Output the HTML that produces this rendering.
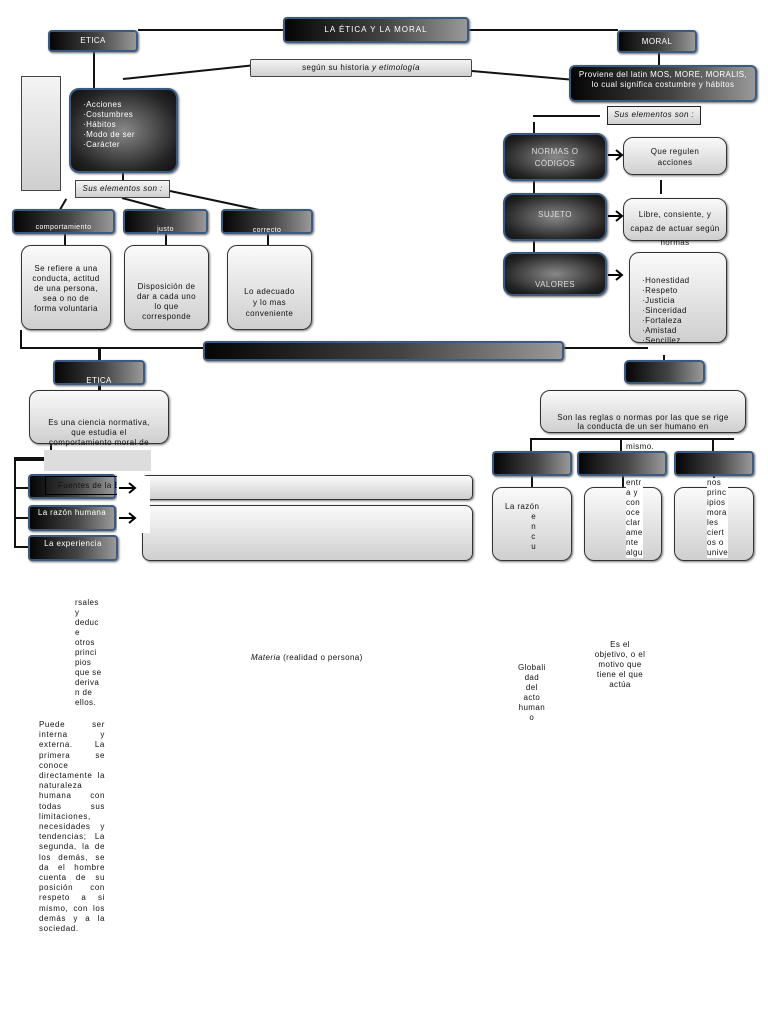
<!DOCTYPE html>
<html><head><meta charset="utf-8"><style>
body{margin:0;width:768px;height:1024px;background:#fff;position:relative;overflow:hidden;font-family:"Liberation Sans",sans-serif;font-size:8px;color:#111;letter-spacing:0.4px}
div{position:absolute;box-sizing:border-box}
.d{background:linear-gradient(90deg,#050505,#444 55%,#999);border:2px solid #3b5a80;color:#fff;text-align:center;border-radius:4px;box-shadow:1px 1px 2px #666}
.dr{background:radial-gradient(ellipse at center,#888,#222 75%,#111);border:2px solid #3b5a80;color:#fff;border-radius:10px;box-shadow:1px 1px 2px #666}
.l{background:linear-gradient(180deg,#fafafa,#cfcfcf);border:1.5px solid #333;text-align:center;border-radius:10px;box-shadow:1px 1px 2px #777}
.r{background:linear-gradient(180deg,#f4f4f4,#cfcfcf);border:1.5px solid #444;text-align:center}
.k{background:#111}
.t{color:#111}
.a{background:#fff}
</style></head><body>
<!-- lines -->
<div class="k" style="left:138px;top:29px;width:146px;height:2px"></div>
<div class="k" style="left:468px;top:29px;width:150px;height:2px"></div>
<div class="k" style="left:93px;top:52px;width:2px;height:38px"></div>
<div class="k" style="left:658px;top:53px;width:2px;height:13px"></div>
<div class="k" style="left:123px;top:78px;width:130px;height:2px;transform:rotate(-6deg);transform-origin:left"></div>
<div class="k" style="left:472px;top:70px;width:98px;height:2px;transform:rotate(5deg);transform-origin:left"></div>
<div class="k" style="left:122px;top:172px;width:2px;height:9px"></div>
<div class="k" style="left:62px;top:198px;width:2px;height:13px;transform:rotate(30deg)"></div>
<div class="k" style="left:122px;top:197px;width:45px;height:2px;transform:rotate(15deg);transform-origin:left"></div>
<div class="k" style="left:170px;top:190px;width:100px;height:2px;transform:rotate(12deg);transform-origin:left"></div>
<div class="k" style="left:64px;top:233px;width:2px;height:12px"></div>
<div class="k" style="left:165px;top:233px;width:2px;height:12px"></div>
<div class="k" style="left:267px;top:234px;width:2px;height:11px"></div>
<div class="k" style="left:20px;top:330px;width:2px;height:19px"></div>
<div class="k" style="left:20px;top:347px;width:184px;height:2px"></div>
<div class="k" style="left:98px;top:347px;width:3px;height:14px"></div>
<div class="k" style="left:98px;top:384px;width:3px;height:7px"></div>
<div class="k" style="left:563px;top:347px;width:85px;height:2px"></div>
<div class="k" style="left:663px;top:355px;width:2px;height:6px"></div>
<div class="k" style="left:660px;top:180px;width:2px;height:14px"></div>
<div class="k" style="left:533px;top:115px;width:67px;height:2px"></div>
<div class="k" style="left:533px;top:122px;width:2px;height:135px"></div>
<div class="k" style="left:50px;top:444px;width:2px;height:14px"></div>
<div class="k" style="left:14px;top:457px;width:32px;height:4px"></div>
<div class="k" style="left:14px;top:459px;width:2px;height:89px"></div>
<div class="k" style="left:14px;top:487px;width:14px;height:2px"></div>
<div class="k" style="left:14px;top:517px;width:14px;height:2px"></div>
<div class="k" style="left:14px;top:546px;width:14px;height:2px"></div>
<div class="k" style="left:530px;top:438px;width:204px;height:2px"></div>
<div class="k" style="left:530px;top:438px;width:2px;height:14px"></div>
<div class="k" style="left:620px;top:438px;width:2px;height:14px"></div>
<div class="k" style="left:712px;top:438px;width:2px;height:14px"></div>
<div class="k" style="left:531px;top:475px;width:2px;height:13px"></div>
<div class="k" style="left:622px;top:475px;width:2px;height:13px"></div>
<div class="k" style="left:713px;top:475px;width:2px;height:13px"></div>

<!-- top -->
<div class="d" style="left:283px;top:17px;width:186px;height:26px;line-height:22px;font-size:8px;letter-spacing:1px">LA ÉTICA Y LA MORAL</div>
<div class="d" style="left:48px;top:30px;width:90px;height:22px;line-height:18px">ETICA</div>
<div class="d" style="left:617px;top:30px;width:80px;height:23px;line-height:19px">MORAL</div>
<div class="r" style="left:250px;top:59px;width:222px;height:18px;line-height:15px;border-radius:2px">según su historia <i>y etimología</i></div>
<div class="d" style="left:569px;top:65px;width:188px;height:37px;font-size:8px;line-height:10px;padding:3px 4px 0;border-radius:6px">Proviene del latin MOS, MORE, MORALIS, lo cual significa costumbre y hábitos</div>
<div class="r" style="left:21px;top:76px;width:40px;height:115px"></div>
<div class="dr" style="left:69px;top:88px;width:109px;height:85px;padding:10px 0 0 12px;line-height:10px">·Acciones<br>·Costumbres<br>·Hábitos<br>·Modo de ser<br>·Carácter</div>
<div class="r" style="left:75px;top:180px;width:95px;height:18px;line-height:15px"><i>Sus elementos son :</i></div>
<div class="d" style="left:12px;top:209px;width:103px;height:25px;line-height:34px;font-size:7px">comportamiento</div>
<div class="d" style="left:123px;top:209px;width:85px;height:25px;line-height:38px;font-size:7px">justo</div>
<div class="d" style="left:221px;top:209px;width:92px;height:25px;line-height:40px;font-size:7px">correcto</div>
<div class="l" style="left:21px;top:245px;width:90px;height:85px;padding:18px 10px 0;line-height:10px">Se refiere a una conducta, actitud de una persona, sea o no de forma voluntaria</div>
<div class="l" style="left:124px;top:245px;width:85px;height:85px;padding:36px 10px 0;line-height:10px">Disposición de dar a cada uno lo que corresponde</div>
<div class="l" style="left:227px;top:245px;width:85px;height:85px;padding:40px 14px 0;line-height:11px">Lo adecuado y lo mas conveniente</div>

<!-- right moral -->
<div class="r" style="left:607px;top:106px;width:94px;height:19px;line-height:16px;border:1.5px solid #222"><i>Sus elementos son :</i></div>
<div class="dr" style="left:503px;top:133px;width:104px;height:48px;padding-top:11px;line-height:12px;text-align:center;color:#ddd">NORMAS O<br>CÓDIGOS</div>
<div class="dr" style="left:503px;top:193px;width:104px;height:48px;line-height:40px;text-align:center;color:#ddd">SUJETO</div>
<div class="dr" style="left:503px;top:252px;width:104px;height:44px;padding-top:26px;text-align:center;color:#ddd">VALORES</div>
<div class="l" style="left:623px;top:137px;width:104px;height:38px;padding:8px 22px 0;line-height:11px">Que regulen acciones</div>
<div class="l" style="left:623px;top:198px;width:104px;height:43px;padding:9px 6px 0;line-height:14px">Libre, consiente, y capaz de actuar según normas</div>
<div class="l" style="left:629px;top:252px;width:98px;height:91px;padding:23px 0 0 12px;line-height:10px;text-align:left">·Honestidad<br>·Respeto<br>·Justicia<br>·Sinceridad<br>·Fortaleza<br>·Amistad<br>·Sencillez...</div>
<svg style="position:absolute;left:605px;top:140px" width="20" height="150"><g stroke="#000" stroke-width="2" fill="none"><path d="M3 15H17M11 10L17 15L11 20"/><path d="M3 76H17M11 71L17 76L11 81"/><path d="M3 135H17M11 130L17 135L11 140"/></g></svg>

<!-- middle bar -->
<div class="d" style="left:203px;top:341px;width:361px;height:20px"></div>
<div class="d" style="left:53px;top:360px;width:92px;height:25px;line-height:38px">ETICA</div>
<div class="l" style="left:29px;top:390px;width:140px;height:54px;padding:27px 14px 0;line-height:10px">Es una ciencia normativa, que estudia el comportamiento moral de una persona</div>
<div style="left:44px;top:450px;width:107px;height:21px;background:#ddd"></div>
<div class="d" style="left:28px;top:474px;width:88px;height:25px"></div>
<div class="d" style="left:28px;top:505px;width:88px;height:26px;line-height:12px">La razón humana</div>
<div class="d" style="left:28px;top:535px;width:90px;height:26px;line-height:14px">La experiencia</div>
<div style="left:45px;top:476px;width:106px;height:19px;border:1px solid #000;line-height:17px;padding-left:12px;white-space:nowrap;overflow:hidden">Fuentes de la Etica:</div>
<div class="l" style="left:142px;top:475px;width:331px;height:25px;border-radius:5px"></div>
<div class="l" style="left:142px;top:505px;width:331px;height:56px;border-radius:8px"></div>
<div class="a" style="left:117px;top:476px;width:33px;height:57px"></div>
<svg style="position:absolute;left:116px;top:478px" width="24" height="50"><g stroke="#000" stroke-width="2" fill="none"><path d="M3 10H19M13 5L19 10L13 15"/><path d="M3 40H19M13 35L19 40L13 45"/></g></svg>

<!-- right bottom -->
<div class="d" style="left:624px;top:360px;width:81px;height:24px;border-radius:5px"></div>
<div class="l" style="left:540px;top:390px;width:206px;height:43px;padding:22px 14px 0;line-height:9px;font-size:8px">Son las reglas o normas por las que se rige la conducta de un ser humano en</div>
<div class="t" style="left:626px;top:442px;">mismo.</div>
<div class="d" style="left:492px;top:451px;width:80px;height:25px"></div>
<div class="d" style="left:577px;top:451px;width:90px;height:25px"></div>
<div class="d" style="left:674px;top:451px;width:80px;height:25px"></div>
<div class="l" style="left:492px;top:487px;width:80px;height:74px;padding:14px 0 0 12px;line-height:10px;text-align:left">La razón<br>&nbsp;&nbsp;&nbsp;&nbsp;&nbsp;&nbsp;&nbsp;&nbsp;&nbsp;&nbsp;e<br>&nbsp;&nbsp;&nbsp;&nbsp;&nbsp;&nbsp;&nbsp;&nbsp;&nbsp;&nbsp;n<br>&nbsp;&nbsp;&nbsp;&nbsp;&nbsp;&nbsp;&nbsp;&nbsp;&nbsp;&nbsp;c<br>&nbsp;&nbsp;&nbsp;&nbsp;&nbsp;&nbsp;&nbsp;&nbsp;&nbsp;&nbsp;u</div>
<div class="l" style="left:584px;top:487px;width:78px;height:74px"></div>
<div class="l" style="left:674px;top:487px;width:80px;height:74px"></div>
<div class="t" style="left:626px;top:478px;line-height:10px;background:#fff">entr<br>a y<br>con<br>oce<br>clar<br>ame<br>nte<br>algu</div>
<div class="t" style="left:707px;top:478px;line-height:10px;background:#fff">nos<br>princ<br>ipios<br>mora<br>les<br>ciert<br>os o<br>unive</div>

<!-- bottom text -->
<div class="t" style="left:75px;top:598px;line-height:10px">rsales<br>y<br>deduc<br>e<br>otros<br>princi<br>pios<br>que se<br>deriva<br>n de<br>ellos.</div>
<div class="t" style="left:39px;top:720px;width:66px;line-height:10.2px;text-align:justify;text-align-last:left;letter-spacing:0.6px">Puede ser interna y externa. La primera se conoce directamente la naturaleza humana con todas sus limitaciones, necesidades y tendencias; La segunda, la de los demás, se da el hombre cuenta de su posición con respeto a si mismo, con los demás y a la sociedad.</div>
<div class="t" style="left:251px;top:653px"><i>Materia</i> (realidad o persona)</div>
<div class="t" style="left:518px;top:663px;line-height:10px;text-align:center">Globali<br>dad<br>del<br>acto<br>human<br>o</div>
<div class="t" style="left:594px;top:640px;width:52px;line-height:10px;text-align:center">Es el objetivo, o el motivo que tiene el que actúa</div>
</body></html>
